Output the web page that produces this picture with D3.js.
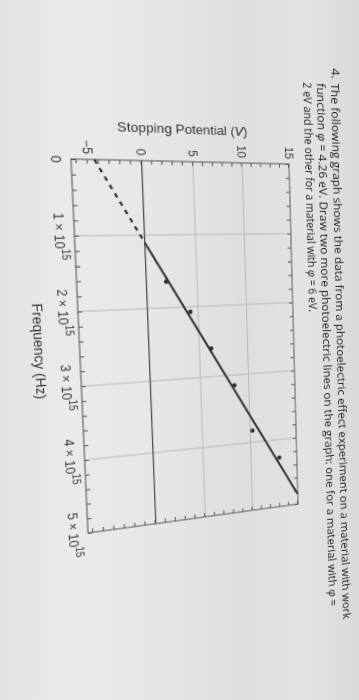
<!DOCTYPE html>
<html>
<head>
<meta charset="utf-8">
<script src="https://cdnjs.cloudflare.com/ajax/libs/d3/7.8.5/d3.min.js"></script>
<style>
html, body { margin: 0; padding: 0; width: 359px; height: 700px; overflow: hidden; }
body { background: linear-gradient(to right, #e3e3e3 0%, #eaeaea 18%, #e7e7e7 40%, #dedede 68%, #e3e3e3 85%, #d9d9d9 100%); }
#page { position: absolute; left: 0; top: 0; transform-origin: 0 0; }
</style>
</head>
<body>
<div id="page"></div>
<script>
// values; frequency in units of 1e15 Hz, potential in V
var freqDomain = [0, 5];
var voltDomain = [-6.5, 15];
var freqLabels = [0, 1, 2, 3, 4, 5];
var voltLabels = [-5, 0, 5, 10, 15];
var freqGrid = [1, 2, 3, 4];
var voltGrid = [5, 10];
var pointFreq = [1.64, 2.07, 2.60, 3.15, 3.83, 4.27];
var pointVolt = [1.94, 4.22, 6.18, 8.48, 10.24, 13.06];
var dashFreq = [0, 1.1];
var dashVolt = [-4.4, 0];
var fitFreq = [1.1, 4.85];
var fitVolt = [0, 15];
var titleLines = [
  ["The following graph shows the data from a photoelectric effect experiment on a material with work"],
  ["function ", "φ", " = 4.26 eV. Draw two more photoelectric lines on the graph: one for a material with ", "φ", " ="],
  ["2 eV and the other for a material with ", "φ", " = 6 eV."]
];

// the page is flat here, then bent onto the photo with one perspective transform
var X0 = 150, Y0 = 80, W = 370, H = 217;
var localCorners = [[X0, Y0], [X0 + W, Y0], [X0 + W, Y0 + H], [X0, Y0 + H]];
var photoCorners = [[289, 164], [298, 504], [88, 533], [71, 159]];

function homography(src, dst) {
  var A = [], b = [];
  for (var i = 0; i < 4; i++) {
    var x = src[i][0], y = src[i][1], u = dst[i][0], v = dst[i][1];
    A.push([x, y, 1, 0, 0, 0, -x * u, -y * u]); b.push(u);
    A.push([0, 0, 0, x, y, 1, -x * v, -y * v]); b.push(v);
  }
  var n = 8;
  for (var c = 0; c < n; c++) {
    var p = c;
    for (var r = c + 1; r < n; r++) if (Math.abs(A[r][c]) > Math.abs(A[p][c])) p = r;
    var t = A[c]; A[c] = A[p]; A[p] = t;
    t = b[c]; b[c] = b[p]; b[p] = t;
    for (var r = c + 1; r < n; r++) {
      var f = A[r][c] / A[c][c];
      for (var k = c; k < n; k++) A[r][k] -= f * A[c][k];
      b[r] -= f * b[c];
    }
  }
  var h = new Array(n);
  for (var r = n - 1; r >= 0; r--) {
    var s = b[r];
    for (var k = r + 1; k < n; k++) s -= A[r][k] * h[k];
    h[r] = s / A[r][r];
  }
  return h;
}
function project(h, p) {
  var w = h[6] * p[0] + h[7] * p[1] + 1;
  return [(h[0] * p[0] + h[1] * p[1] + h[2]) / w, (h[3] * p[0] + h[4] * p[1] + h[5]) / w];
}

var hm = homography(localCorners, photoCorners);
var hInv = homography(photoCorners, localCorners);

d3.select("#page")
  .style("transform", "matrix3d(" + [hm[0], hm[3], 0, hm[6], hm[1], hm[4], 0, hm[7], 0, 0, 1, 0, hm[2], hm[5], 0, 1].join(",") + ")");

var svg = d3.select("#page").append("svg")
  .attr("width", 760)
  .attr("height", 400)
  .style("display", "block");

var x = d3.scaleLinear().domain(freqDomain).range([X0, X0 + W]);
var y = d3.scaleLinear().domain(voltDomain).range([Y0 + H, Y0]);

// grid
svg.append("g").selectAll("line").data(freqGrid).enter().append("line")
  .attr("x1", d => x(d)).attr("x2", d => x(d))
  .attr("y1", Y0).attr("y2", Y0 + H)
  .attr("stroke", "#b3b3b3").attr("stroke-width", 0.9);
svg.append("g").selectAll("line").data(voltGrid).enter().append("line")
  .attr("x1", X0).attr("x2", X0 + W)
  .attr("y1", d => y(d)).attr("y2", d => y(d))
  .attr("stroke", "#b3b3b3").attr("stroke-width", 0.9);
svg.append("line")
  .attr("x1", X0).attr("x2", X0 + W)
  .attr("y1", y(0)).attr("y2", y(0))
  .attr("stroke", "#4d4d4d").attr("stroke-width", 1.1);

// inward minor ticks on all four sides
function minor(g) { g.select(".domain").remove(); g.selectAll("line").attr("stroke", "#555"); }
svg.append("g").attr("transform", "translate(" + X0 + ",0)")
  .call(d3.axisRight(y).ticks(21).tickSize(4).tickFormat("")).call(minor);
svg.append("g").attr("transform", "translate(" + (X0 + W) + ",0)")
  .call(d3.axisLeft(y).ticks(21).tickSize(4).tickFormat("")).call(minor);
svg.append("g").attr("transform", "translate(0," + (Y0 + H) + ")")
  .call(d3.axisTop(x).ticks(25).tickSize(4).tickFormat("")).call(minor);
svg.append("g").attr("transform", "translate(0," + Y0 + ")")
  .call(d3.axisBottom(x).ticks(25).tickSize(4).tickFormat("")).call(minor);

svg.append("rect")
  .attr("x", X0).attr("y", Y0).attr("width", W).attr("height", H)
  .attr("fill", "none").attr("stroke", "#555").attr("stroke-width", 1);

// tick labels
var yLab = svg.append("g").attr("transform", "translate(" + X0 + ",0)")
  .call(d3.axisLeft(y).tickValues(voltLabels).tickSize(0).tickPadding(5));
yLab.select(".domain").remove();
yLab.selectAll("text").attr("font-family", "Liberation Sans, Arial, sans-serif")
  .attr("font-size", 12).attr("fill", "#3a3a3a");

var xLab = svg.append("g").attr("transform", "translate(0," + (Y0 + H) + ")")
  .call(d3.axisBottom(x).tickValues(freqLabels).tickSize(0).tickPadding(9));
xLab.select(".domain").remove();
xLab.selectAll("text").attr("font-family", "Liberation Sans, Arial, sans-serif")
  .attr("font-size", 12.5).attr("fill", "#3a3a3a")
  .each(function(d) {
    var t = d3.select(this).text("");
    if (d === 0) { t.text("0"); return; }
    t.append("tspan").text(d + " \u00d7 10");
    t.append("tspan").attr("dy", -6).attr("font-size", 10).text("15");
  });

// axis titles
svg.append("text")
  .attr("transform", "translate(" + (X0 - 28) + "," + (Y0 + H / 2) + ") rotate(-90)")
  .attr("text-anchor", "middle")
  .attr("font-family", "Liberation Sans, Arial, sans-serif")
  .attr("font-size", 13.3).attr("fill", "#333")
  .call(t => {
    t.append("tspan").text("Stopping Potential (");
    t.append("tspan").attr("font-style", "italic").text("V");
    t.append("tspan").text(")");
  });
svg.append("text")
  .attr("x", X0 + W / 2).attr("y", Y0 + H + 41)
  .attr("text-anchor", "middle")
  .attr("font-family", "Liberation Sans, Arial, sans-serif")
  .attr("font-size", 13.5).attr("fill", "#333")
  .text("Frequency (Hz)");

// fitted line, dashed extrapolation and measured points
var line = d3.line().x(d => x(d[0])).y(d => y(d[1]));
svg.append("path")
  .attr("d", line(d3.zip(dashFreq, dashVolt)))
  .attr("fill", "none").attr("stroke", "#333").attr("stroke-width", 2.2)
  .attr("stroke-dasharray", "4.5,4.8");
svg.append("path")
  .attr("d", line(d3.zip(fitFreq, fitVolt)))
  .attr("fill", "none").attr("stroke", "#3a3a3a").attr("stroke-width", 2.2);
svg.append("g").selectAll("circle").data(d3.zip(pointFreq, pointVolt)).enter().append("circle")
  .attr("cx", d => x(d[0])).attr("cy", d => y(d[1])).attr("r", 2.4)
  .attr("fill", "#333");

// question text, anchored to where it sits on the photo
var titleStarts = [[331, 83], [317, 83], [303, 82]];
var titleEnds = [[341, 620], [328, 607], [309, 312]];
var num = project(hInv, [331, 68]);
svg.append("text").attr("x", num[0]).attr("y", num[1])
  .attr("font-family", "Open Sans, sans-serif").attr("font-size", 13.5).attr("fill", "#222")
  .text("4.");
titleLines.forEach(function(parts, i) {
  var s = project(hInv, titleStarts[i]);
  var e = project(hInv, titleEnds[i]);
  var t = svg.append("text").attr("x", s[0]).attr("y", s[1])
    .attr("font-family", "Open Sans, sans-serif").attr("font-size", 13.5).attr("fill", "#222")
    .attr("textLength", e[0] - s[0]).attr("lengthAdjust", "spacingAndGlyphs");
  parts.forEach(p => t.append("tspan").attr("font-style", p === "φ" ? "italic" : null).text(p));
});
</script>
</body>
</html>
